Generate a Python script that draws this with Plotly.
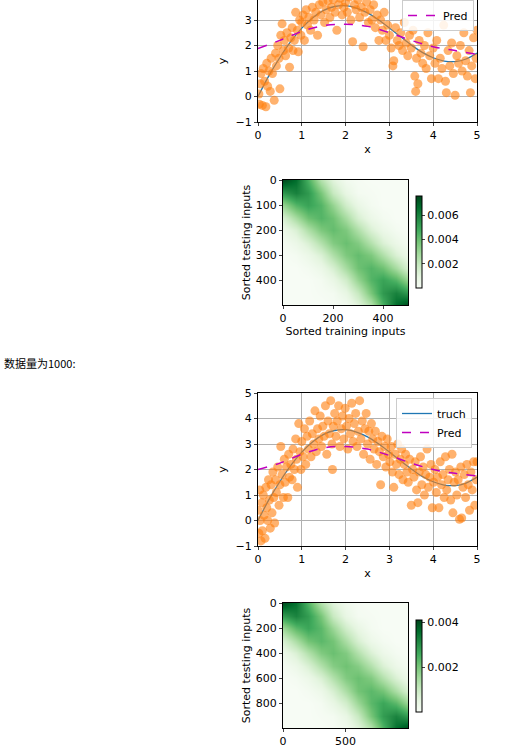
import plotly.graph_objects as go

# ---- data ----
# n = 500 run
x_500 = [0.02, 0.03, 0.05, 0.07, 0.1, 0.12, 0.15, 0.18, 0.2, 0.22, 0.25, 0.28, 0.3, 0.33, 0.37, 0.4, 0.42, 0.45,
         0.48, 0.5, 0.52, 0.55, 0.58, 0.6, 0.63, 0.66, 0.7, 0.72, 0.75, 0.78, 0.8, 0.83, 0.86, 0.9, 0.92, 0.95,
         0.98, 1.0, 1.03, 1.06, 1.1, 1.13, 1.16, 1.2, 1.24, 1.28, 1.32, 1.36, 1.4, 1.44, 1.48, 1.52, 1.56, 1.6,
         1.64, 1.68, 1.72, 1.76, 1.8, 1.84, 1.88, 1.92, 1.96, 2.0, 2.04, 2.08, 2.12, 2.16, 2.2, 2.24, 2.28, 2.32,
         2.36, 2.4, 2.44, 2.48, 2.52, 2.56, 2.6, 2.64, 2.68, 2.72, 2.76, 2.8, 2.84, 2.88, 2.92, 2.96, 3.0, 3.04,
         3.08, 3.1, 3.14, 3.18, 3.22, 3.26, 3.3, 3.34, 3.38, 3.42, 3.46, 3.5, 3.54, 3.58, 3.6, 3.62, 3.65, 3.68,
         3.72, 3.76, 3.8, 3.84, 3.88, 3.92, 3.96, 4.0, 4.04, 4.08, 4.12, 4.16, 4.2, 4.24, 4.28, 4.3, 4.34, 4.38,
         4.42, 4.46, 4.5, 4.54, 4.58, 4.62, 4.66, 4.7, 4.74, 4.78, 4.82, 4.85, 4.88, 4.92, 4.96, 4.98, 5.0]
y_500 = [0.1, -0.3, 0.5, 0.9, -0.35, 1.1, 0.6, -0.4, 1.3, 0.4, 1.0, 0.2, 1.5, 0.9, -0.15, 1.7, 1.2, 2.0,
         1.5, 0.3, 2.4, 2.85, 1.8, 2.2, 1.6, 2.5, 1.9, 1.15, 2.3, 2.7, 1.8, 2.2, 3.3, 2.6, 1.75, 3.0,
         2.4, 2.9, 3.2, 2.2, 3.4, 2.8, 3.1, 2.6, 3.5, 3.0, 3.3, 2.4, 3.6, 3.2, 3.7, 2.9, 3.4, 3.75,
         3.1, 3.5, 3.8, 3.3, 2.6, 3.6, 3.85, 3.2, 3.5, 3.7, 3.3, 3.9, 3.0, 2.15, 3.6, 3.4, 3.8, 3.1,
         3.5, 1.95, 3.3, 3.7, 2.9, 3.4, 3.0, 3.6, 2.7, 3.2, 2.2, 3.0, 2.6, 3.3, 2.2, 2.8, 2.4, 1.9,
         1.2, 1.4, 2.7, 2.2, 2.0, 2.5, 1.8, 2.9, 2.1, 1.6, 2.4, 1.9, 2.6, 0.8, 0.2, 1.5, 0.5, 2.2,
         1.7, 1.3, 2.0, 1.1, 2.5, 1.6, 0.7, 1.9, 1.3, 2.2, 0.7, 1.5, 1.1, 2.8, 0.6, 0.15, 1.8, 1.2,
         2.1, 0.9, 0.05, 1.6, 1.3, 2.0, 1.0, 2.5, 1.4, 0.8, 1.8, 0.15, 1.2, 2.3, 0.7, 1.5, 2.6]

# n = 1000 run
x_1000 = [0.0, 0.02, 0.04, 0.05, 0.07, 0.09, 0.1, 0.12, 0.14, 0.16, 0.18, 0.2, 0.22, 0.24, 0.26, 0.28, 0.3, 0.32,
          0.34, 0.36, 0.38, 0.4, 0.42, 0.45, 0.48, 0.5, 0.52, 0.55, 0.58, 0.6, 0.62, 0.65, 0.68, 0.7, 0.72, 0.75,
          0.78, 0.8, 0.83, 0.86, 0.88, 0.9, 0.93, 0.96, 0.98, 1.0, 1.03, 1.06, 1.09, 1.12, 1.15, 1.18, 1.21, 1.24,
          1.27, 1.3, 1.33, 1.36, 1.39, 1.42, 1.45, 1.48, 1.51, 1.54, 1.57, 1.6, 1.63, 1.66, 1.69, 1.7, 1.72, 1.75,
          1.78, 1.81, 1.84, 1.87, 1.9, 1.93, 1.96, 1.99, 2.02, 2.05, 2.08, 2.11, 2.14, 2.17, 2.2, 2.23, 2.26, 2.29,
          2.32, 2.35, 2.38, 2.41, 2.44, 2.47, 2.5, 2.53, 2.56, 2.59, 2.62, 2.65, 2.68, 2.71, 2.74, 2.77, 2.8, 2.83,
          2.86, 2.89, 2.92, 2.95, 2.98, 3.01, 3.04, 3.07, 3.1, 3.13, 3.16, 3.19, 3.22, 3.25, 3.28, 3.31, 3.34, 3.37,
          3.4, 3.43, 3.46, 3.5, 3.53, 3.56, 3.59, 3.62, 3.65, 3.68, 3.71, 3.74, 3.77, 3.8, 3.83, 3.86, 3.89, 3.92,
          3.95, 3.98, 4.01, 4.04, 4.07, 4.1, 4.13, 4.16, 4.19, 4.22, 4.25, 4.28, 4.31, 4.34, 4.37, 4.4, 4.43, 4.45,
          4.48, 4.51, 4.54, 4.57, 4.6, 4.63, 4.65, 4.68, 4.71, 4.74, 4.77, 4.8, 4.83, 4.86, 4.89, 4.92, 4.95, 4.98, 5.0]
y_1000 = [0.4, -0.5, 1.2, 0.0, -0.8, 0.7, -0.4, 1.0, 0.2, -0.7, 1.3, 0.5, 0.0, 1.6, 0.8, -0.3, 1.4, 0.3,
          1.9, 0.9, -0.1, 1.6, 1.1, 2.1, 0.6, 1.4, 2.9, 1.8, 0.9, 2.4, 1.5, 2.1, 0.9, 2.6, 1.7, 2.2,
          1.6, 2.8, 2.0, 3.2, 2.4, 1.3, 3.8, 2.7, 2.0, 3.1, 2.5, 3.6, 2.2, 3.3, 2.8, 3.9, 2.5, 3.4,
          3.0, 4.3, 2.7, 3.6, 3.2, 4.1, 2.9, 3.7, 3.3, 4.5, 2.6, 3.9, 3.4, 4.7, 3.0, 2.0, 3.7, 4.2,
          3.3, 3.9, 4.5, 2.9, 3.6, 4.1, 3.2, 4.4, 3.7, 2.8, 4.0, 3.4, 4.6, 3.1, 3.8, 4.2, 2.9, 3.5,
          4.7, 3.2, 3.9, 2.6, 3.6, 4.2, 3.0, 3.5, 2.4, 3.8, 3.2, 2.8, 3.5, 2.2, 3.1, 2.7, 1.4, 3.3,
          2.5, 2.9, 2.1, 3.2, 2.6, 2.3, 2.9, 1.9, 1.3, 2.6, 2.2, 3.0, 1.8, 2.4, 2.8, 1.6, 2.2, 2.6,
          1.9, 1.5, 2.4, 0.6, 2.0, 1.7, 2.3, 1.2, 0.7, 1.9, 2.5, 1.4, 2.1, 1.0, 1.8, 2.8, 1.3, 1.7,
          2.2, 0.5, 1.5, 2.0, 1.1, 1.7, 0.5, 2.3, 1.4, 1.8, 0.9, 2.5, 1.2, 1.6, 2.0, 0.8, 2.6, 0.3,
          1.5, 1.9, 1.0, 1.6, 0.05, 2.1, 0.1, 1.3, 1.8, 0.9, 2.2, 1.4, 0.4, 1.9, 1.2, 2.3, 0.6, 1.6, 2.3]

# ground truth curve and kernel-regression predictions
x_curve = [0.0, 0.25, 0.5, 0.75, 1.0, 1.25, 1.5, 1.75, 2.0, 2.25, 2.5, 2.75, 3.0, 3.25, 3.5, 3.75, 4.0, 4.25,
           4.5, 4.75, 5.0]
y_truth = [0.0, 0.82, 1.53, 2.16, 2.68, 3.09, 3.38, 3.53, 3.56, 3.47, 3.28, 3.01, 2.69, 2.35, 2.02, 1.73, 1.52,
           1.39, 1.37, 1.47, 1.70]
x_pred = [0.0, 0.5, 1.0, 1.5, 2.0, 2.5, 3.0, 3.5, 4.0, 4.5, 5.0]
y_pred_500 = [1.88, 2.2, 2.55, 2.78, 2.83, 2.75, 2.5, 2.2, 1.95, 1.8, 1.65]
y_pred_1000 = [2.0, 2.25, 2.6, 2.85, 2.9, 2.8, 2.55, 2.25, 2.0, 1.85, 1.75]

# attention weights, coarse grid of sorted inputs
grid_500 = [0, 50, 100, 150, 200, 250, 300, 350, 400, 450, 500]
attn_500 = [
    [7.5, 6.6, 4.6, 2.4, 1.1, 0.3, 0.1, 0.0, 0.0, 0.0, 0.0],
    [5.3, 6.0, 5.3, 3.7, 1.9, 0.8, 0.2, 0.1, 0.0, 0.0, 0.0],
    [3.1, 4.4, 5.0, 4.4, 3.1, 1.6, 0.7, 0.2, 0.0, 0.0, 0.0],
    [1.4, 2.7, 3.9, 4.4, 3.9, 2.7, 1.4, 0.6, 0.2, 0.0, 0.0],
    [0.6, 1.3, 2.5, 3.6, 4.1, 3.6, 2.5, 1.3, 0.6, 0.2, 0.0],
    [0.2, 0.6, 1.3, 2.4, 3.5, 4.0, 3.5, 2.4, 1.3, 0.6, 0.2],
    [0.0, 0.2, 0.6, 1.3, 2.5, 3.6, 4.1, 3.6, 2.5, 1.3, 0.6],
    [0.0, 0.0, 0.2, 0.6, 1.4, 2.7, 3.9, 4.4, 3.9, 2.7, 1.4],
    [0.0, 0.0, 0.0, 0.2, 0.7, 1.6, 3.1, 4.4, 5.0, 4.4, 3.1],
    [0.0, 0.0, 0.0, 0.1, 0.2, 0.8, 1.9, 3.7, 5.3, 6.0, 5.3],
    [0.0, 0.0, 0.0, 0.0, 0.1, 0.3, 1.1, 2.4, 4.6, 6.6, 7.5],
]
grid_1000 = [0, 100, 200, 300, 400, 500, 600, 700, 800, 900, 1000]
attn_1000 = [
    [4.0, 3.5, 2.4, 1.3, 0.6, 0.2, 0.05, 0.0, 0.0, 0.0, 0.0],
    [2.8, 3.2, 2.8, 2.0, 1.0, 0.4, 0.1, 0.05, 0.0, 0.0, 0.0],
    [1.6, 2.3, 2.65, 2.3, 1.6, 0.85, 0.4, 0.1, 0.0, 0.0, 0.0],
    [0.75, 1.4, 2.05, 2.3, 2.05, 1.4, 0.75, 0.3, 0.1, 0.0, 0.0],
    [0.3, 0.7, 1.3, 1.9, 2.15, 1.9, 1.3, 0.7, 0.3, 0.1, 0.0],
    [0.1, 0.3, 0.7, 1.3, 1.85, 2.1, 1.85, 1.3, 0.7, 0.3, 0.1],
    [0.0, 0.1, 0.3, 0.7, 1.3, 1.9, 2.15, 1.9, 1.3, 0.7, 0.3],
    [0.0, 0.0, 0.1, 0.3, 0.75, 1.4, 2.05, 2.3, 2.05, 1.4, 0.75],
    [0.0, 0.0, 0.0, 0.1, 0.4, 0.85, 1.6, 2.3, 2.65, 2.3, 1.6],
    [0.0, 0.0, 0.0, 0.05, 0.1, 0.4, 1.0, 2.0, 2.8, 3.2, 2.8],
    [0.0, 0.0, 0.0, 0.0, 0.05, 0.2, 0.6, 1.3, 2.4, 3.5, 4.0],
]

GREENS = [[0.0, '#f7fcf5'], [0.125, '#e5f5e0'], [0.25, '#c7e9c0'], [0.375, '#a1d99b'], [0.5, '#74c476'],
          [0.625, '#41ab5d'], [0.75, '#238b45'], [0.875, '#006d2c'], [1.0, '#00441b']]
ORANGE = '#ff7f0e'
FONT = dict(family='DejaVu Sans', size=11, color='black')

# body margin is removed in the page, so the figure fills the whole window
W, H = 514, 748


def px(x):
    return x / W


def py(y):
    return 1 - y / H


fig = go.Figure()

# scatter panels
for n, (xs, ys, yp, ax, leg) in enumerate([(x_500, y_500, y_pred_500, '', 'legend'),
                                           (x_1000, y_1000, y_pred_1000, '2', 'legend2')]):
    fig.add_trace(go.Scatter(x=x_curve, y=y_truth, mode='lines', name='truch', line=dict(color='#1f77b4', width=1.3),
                             line_shape='spline', xaxis='x' + ax, yaxis='y' + ax, legend=leg, showlegend=(n == 1)))
    fig.add_trace(go.Scatter(x=xs, y=ys, mode='markers', showlegend=False, xaxis='x' + ax, yaxis='y' + ax,
                             marker=dict(color=ORANGE, size=9, opacity=0.6, line=dict(width=0))))
    fig.add_trace(go.Scatter(x=x_pred, y=yp, mode='lines', name='Pred', line_shape='spline',
                             line=dict(color='#bf00bf', width=1.5, dash='dash'),
                             xaxis='x' + ax, yaxis='y' + ax, legend=leg))

# heatmap panels
cb = dict(x=px(416), xanchor='left', xpad=0, ypad=0, len=92 / H, thickness=6, outlinecolor='black',
          outlinewidth=1, ticks='outside', ticklen=3, tickfont=FONT)
fig.add_trace(go.Heatmap(x=grid_500, y=grid_500, z=[[v / 1000 for v in r] for r in attn_500], zsmooth='best',
                         colorscale=GREENS, zmin=0, zmax=0.0076, xaxis='x3', yaxis='y3',
                         colorbar=dict(y=py(242), tickvals=[0.002, 0.004, 0.006], **cb)))
fig.add_trace(go.Heatmap(x=grid_1000, y=grid_1000, z=[[v / 1000 for v in r] for r in attn_1000], zsmooth='best',
                         colorscale=GREENS, zmin=0, zmax=0.0041, xaxis='x4', yaxis='y4',
                         colorbar=dict(y=py(666), tickvals=[0.002, 0.004], **cb)))

axis_style = dict(showline=True, linecolor='black', linewidth=1, mirror=True, ticks='outside', ticklen=3,
                  tickfont=FONT, zeroline=False, automargin=False)
grid_style = dict(showgrid=True, gridcolor='#b0b0b0', gridwidth=0.8)

fig.update_layout(
    width=W, height=H, margin=dict(l=0, r=0, t=0, b=0, autoexpand=False),
    plot_bgcolor='white', paper_bgcolor='white', font=FONT,
    xaxis=dict(domain=[px(258), px(477)], range=[0, 5], dtick=1, anchor='y',
               title=dict(text='x', font=FONT, standoff=4), **axis_style, **grid_style),
    yaxis=dict(domain=[py(122), 1], range=[-1, 3 + 20 / 25.5], dtick=1, anchor='x',
               title=dict(text='y', font=FONT, standoff=6), **axis_style, **grid_style),
    xaxis2=dict(domain=[px(258), px(477)], range=[0, 5], dtick=1, anchor='y2',
                title=dict(text='x', font=FONT, standoff=4), **axis_style, **grid_style),
    yaxis2=dict(domain=[py(546), py(393)], range=[-1, 5], dtick=1, anchor='x2',
                title=dict(text='y', font=FONT, standoff=6), **axis_style, **grid_style),
    xaxis3=dict(domain=[px(283), px(408)], range=[0, 500], tickvals=[0, 200, 400], anchor='y3',
                title=dict(text='Sorted training inputs', font=FONT, standoff=2), showgrid=False, **axis_style),
    yaxis3=dict(domain=[py(305), py(180)], range=[500, 0], tickvals=[0, 100, 200, 300, 400], anchor='x3',
                title=dict(text='Sorted testing inputs', font=FONT, standoff=2), showgrid=False, **axis_style),
    xaxis4=dict(domain=[px(283), px(408)], range=[0, 1000], tickvals=[0, 500], anchor='y4',
                showgrid=False, **axis_style),
    yaxis4=dict(domain=[py(728), py(603)], range=[1000, 0], tickvals=[0, 200, 400, 600, 800], anchor='x4',
                title=dict(text='Sorted testing inputs', font=FONT, standoff=2), showgrid=False, **axis_style),
    legend=dict(x=px(474), xanchor='right', y=1.0, yanchor='top', bgcolor='rgba(255,255,255,0.85)',
                bordercolor='#cccccc', borderwidth=1, font=FONT, tracegroupgap=0),
    legend2=dict(x=px(472), xanchor='right', y=py(398), yanchor='top', bgcolor='rgba(255,255,255,0.85)',
                 bordercolor='#cccccc', borderwidth=1, font=FONT, tracegroupgap=0),
    annotations=[dict(text='数据量为1000:', x=px(2), y=py(363), xref='paper', yref='paper', xanchor='left',
                      yanchor='middle', showarrow=False,
                      font=dict(family='Noto Sans CJK SC', size=11, color='black'))],
)

fig.write_html("out.html", config={'displayModeBar': False},
               post_script="document.body.style.margin='0';")
